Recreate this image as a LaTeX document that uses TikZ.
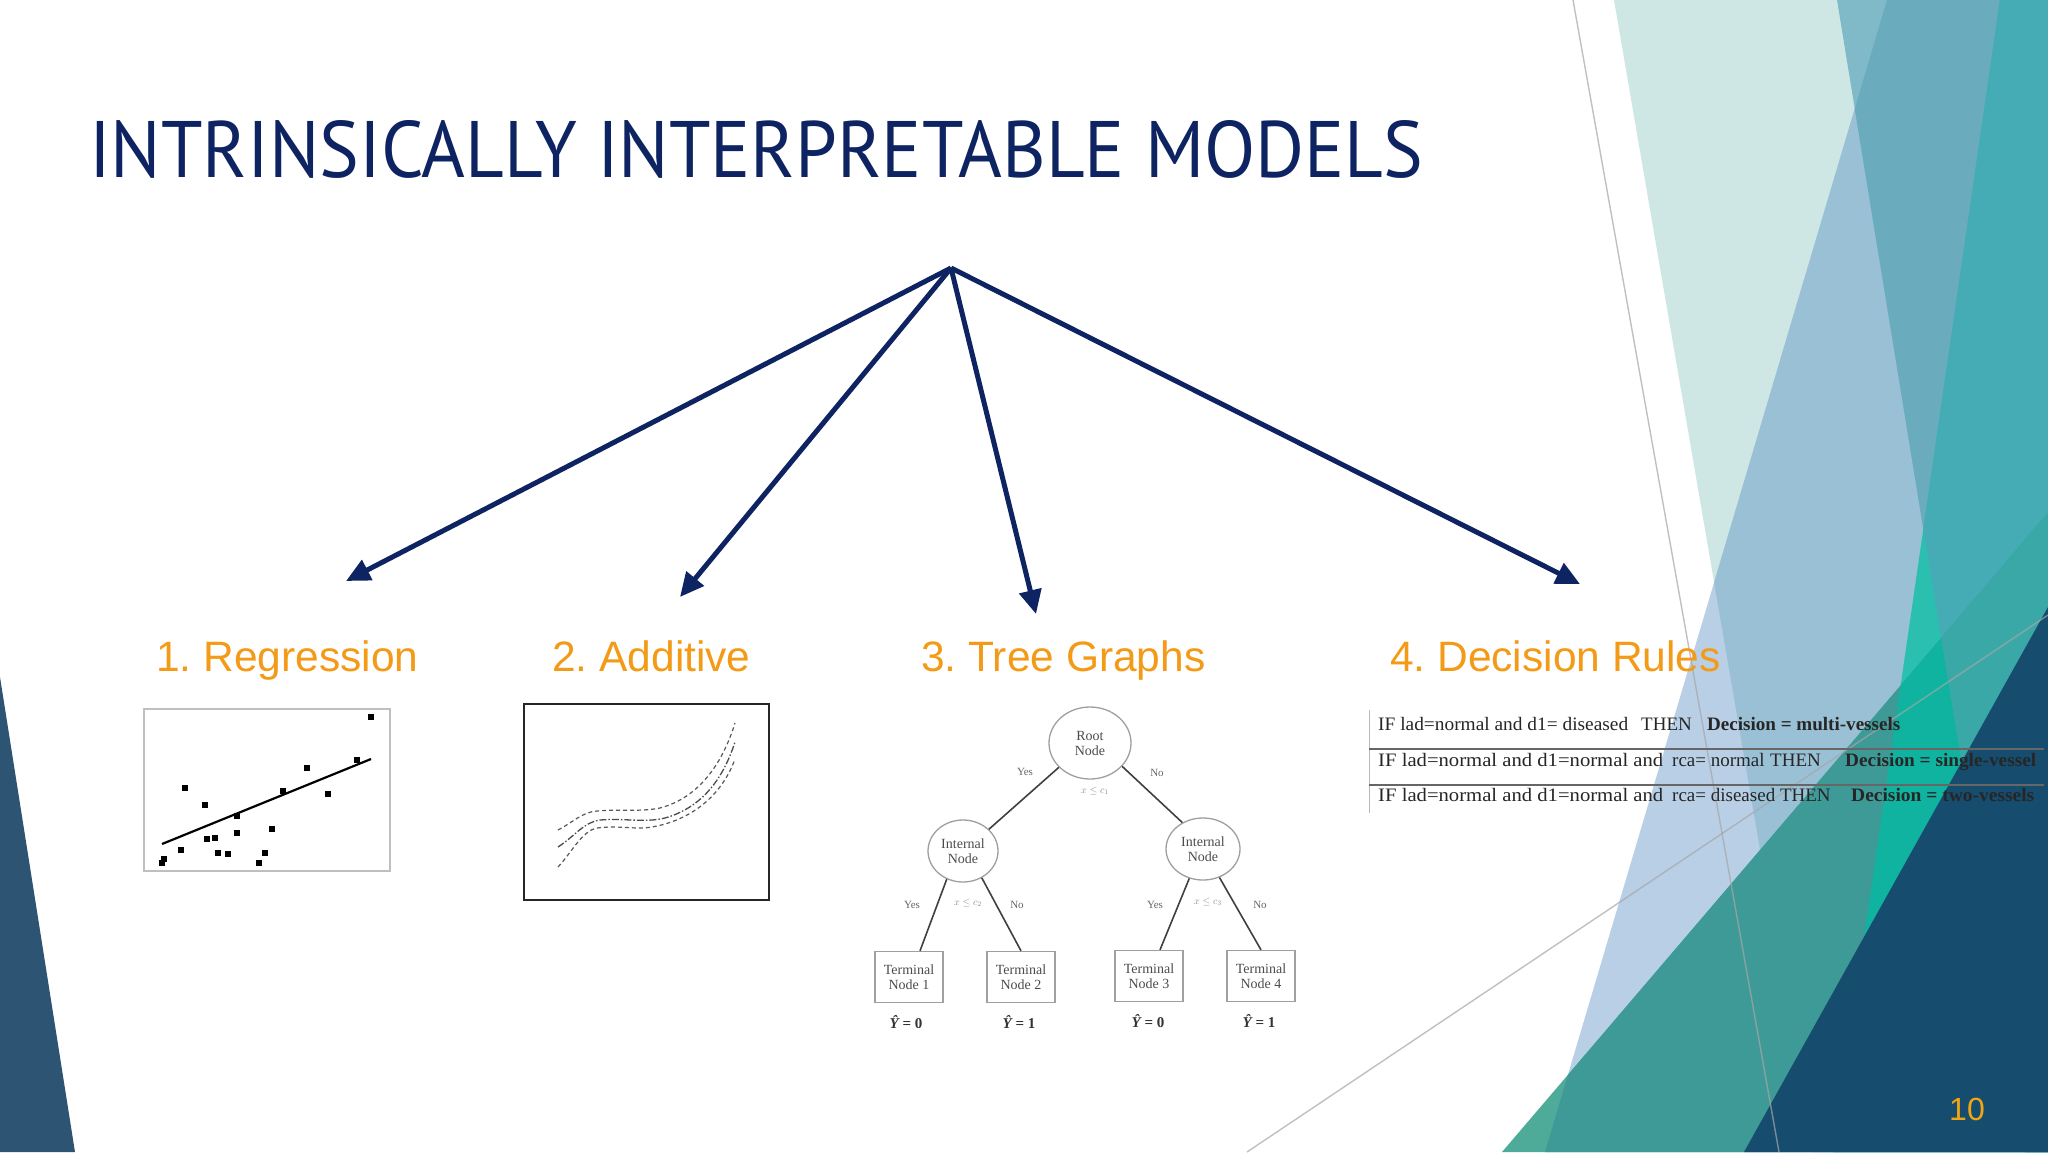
\documentclass[tikz,border=0pt]{standalone}
\usepackage{fontspec}
\usepackage{graphicx}
\setmainfont{Liberation Sans}
\newfontfamily\serifF{Liberation Serif}
\newfontfamily\titleF{PT Sans}
\usetikzlibrary{arrows.meta,shapes.geometric}
\frenchspacing
\newcommand{\fitw}[2]{\resizebox{#1}{\height}{#2}}
\definecolor{navy}{HTML}{0E2361}
\definecolor{orng}{HTML}{F39A17}
\definecolor{pgnum}{HTML}{F0A514}
\definecolor{mint}{HTML}{CFE7E4}
\definecolor{lblue}{HTML}{B8CFE6}
\definecolor{bluemint}{HTML}{99C0D5}
\definecolor{xmint}{HTML}{80BAC8}
\definecolor{xblue}{HTML}{6AABBD}
\definecolor{turq}{HTML}{2BBFB0}
\definecolor{tealx}{HTML}{45ABB5}
\definecolor{gwhite}{HTML}{4FAB99}
\definecolor{gblue}{HTML}{3E9A97}
\definecolor{gturq}{HTML}{10B39F}
\definecolor{gtealx}{HTML}{3BA8A8}
\definecolor{darknavy}{HTML}{164D6E}
\definecolor{slate}{HTML}{2E5473}
\tikzset{
  arrowline/.style={draw=navy, line width=5pt, -{Triangle[length=24pt,width=22pt]}},
  lbl/.style={anchor=base west, inner sep=0, text=orng, font=\fontsize{42.5}{44}\selectfont},
  tellipse/.style={ellipse, draw=gray!75, line width=1.3pt, inner sep=0, align=center,
     font=\serifF\fontsize{14}{15}\selectfont, text=black!70},
  tbox/.style={rectangle, draw=gray!75, line width=1.3pt, inner sep=0, align=center,
     minimum width=68pt, minimum height=51pt, font=\serifF\fontsize{14}{15}\selectfont, text=black!70},
  tedge/.style={draw=black!75, line width=1.6pt},
  tlab/.style={inner sep=0, font=\serifF\fontsize{11}{11}\selectfont, text=black!60},
  tcond/.style={inner sep=0, font=\fontsize{10}{10}\selectfont, text=black!45},
  yhat/.style={inner sep=0, font=\serifF\bfseries\fontsize{15}{15}\selectfont, text=black!80},
  rule/.style={anchor=base west, inner sep=0, font=\serifF\fontsize{19}{19}\selectfont, text=black!85},
  thinline/.style={draw=gray!70, line width=1.4pt, opacity=0.7}
}
\begin{document}
\begin{tikzpicture}[x=1pt,y=-1pt]
\useasboundingbox (0,0) rectangle (2048,1152);
\fill[white] (0,0) rectangle (2048,1152);

% ---------- background facets ----------
\def\Mshape{(1614,0) -- (2048,0) -- (2048,1152) -- (1812,1152) -- cycle}
\def\Ashape{(1887,0) -- (2048,0) -- (2048,1152) -- (1545,1152) -- cycle}
\def\Bshape{(1837,0) -- (2048,0) -- (2048,1152) -- (2025,1152) -- cycle}
\def\Cshape{(2000,0) -- (2048,0) -- (2048,1152) -- (1833,1152) -- cycle}
\def\Eshape{(2048,513) -- (2048,1152) -- (1502,1152) -- cycle}
\def\Nshape{(2048,607) -- (2048,1152) -- (1744,1152) -- cycle}
\fill[mint] \Mshape;
\fill[lblue] \Ashape;
\begin{scope}\clip \Ashape; \fill[bluemint] \Mshape; \end{scope}
\fill[xmint] \Bshape;
\begin{scope}\clip \Ashape; \fill[xblue] \Bshape; \end{scope}
\fill[turq] \Cshape;
\begin{scope}\clip \Cshape; \fill[tealx] \Bshape; \end{scope}
\fill[gwhite] \Eshape;
\begin{scope}\clip \Ashape; \fill[gblue] \Eshape; \end{scope}
\begin{scope}\clip \Cshape; \fill[gturq] \Eshape; \end{scope}
\begin{scope}\clip \Bshape; \fill[gtealx] \Eshape; \end{scope}
\fill[darknavy] \Nshape;
\coordinate (g1a) at (1573,0);
\coordinate (g1b) at (1779,1152);
\coordinate (g2a) at (1247,1152);
\coordinate (g2b) at (2048,615);
\draw[thinline] (g1a) -- (g1b);
\draw[thinline] (g2a) -- (g2b);
\fill[slate] (0,677) -- (75,1152) -- (0,1152) -- cycle;

% ---------- title ----------
\node[anchor=base west, inner sep=0, text=navy] (title) at (89,177)
  {\resizebox{1333pt}{57pt}{\titleF INTRINSICALLY INTERPRETABLE MODELS}};

% ---------- arrows ----------
\coordinate (apex) at (951,268);
\coordinate (t1) at (346,581);
\coordinate (t2) at (680,597);
\coordinate (t3) at (1036,614);
\coordinate (t4) at (1580,584);
\draw[arrowline] (apex) -- (t1);
\draw[arrowline] (apex) -- (t2);
\draw[arrowline] (apex) -- (t3);
\draw[arrowline] (apex) -- (t4);

% ---------- labels ----------
\node[lbl] (l1) at (156,671) {1. Regression};
\node[lbl] (l2) at (552,671) {2. Additive};
\node[lbl] (l3) at (921,671) {3. Tree Graphs};
\node[lbl] (l4) at (1390,671) {4. Decision Rules};

% ---------- regression plot ----------
\draw[draw=gray!50, line width=2pt] (144,709) rectangle (390,871);
\draw[black, line width=2.2pt] (162,844) -- (371,759);
\foreach \x/\y in {371/717,307/768,357/760,185/788,328/794,283/791,205/805,237/816,
  237/833,272/829,207/839,215/838,181/850,218/853,228/854,265/853,259/863,164/859,162/863}
  \fill[black] (\x-2.6,\y-2.6) rectangle (\x+2.6,\y+2.6);

% ---------- additive plot ----------
\draw[draw=black!85, line width=2.5pt] (524,704) rectangle (769,900);
\draw[black!70, line width=1.3pt, dash pattern=on 7pt off 2pt on 1.5pt off 2pt]
  (558,847) .. controls (575,836) and (584,822) .. (600,820)
  .. controls (625,818) and (645,823) .. (665,818)
  .. controls (700,808) and (722,782) .. (735,742);
\draw[black!65, line width=1.2pt, dash pattern=on 4pt off 3pt]
  (558,830) .. controls (572,823) and (582,812) .. (597,811)
  .. controls (620,809) and (640,812) .. (660,808)
  .. controls (698,798) and (722,765) .. (735,723);
\draw[black!65, line width=1.2pt, dash pattern=on 4pt off 3pt]
  (558,867) .. controls (572,852) and (582,831) .. (597,828)
  .. controls (620,825) and (635,830) .. (652,827)
  .. controls (692,820) and (722,795) .. (735,759);

% ---------- tree ----------
\node[tellipse, minimum width=82pt, minimum height=72pt] (root) at (1090,743) {Root\\Node};
\node[tellipse, minimum width=70pt, minimum height=62pt] (li) at (963,851) {Internal\\Node};
\node[tellipse, minimum width=74pt, minimum height=62pt] (ri) at (1203,849) {Internal\\Node};
\node[tbox] (tn1) at (909,977) {Terminal\\Node 1};
\node[tbox] (tn2) at (1021,977) {Terminal\\Node 2};
\node[tbox] (tn3) at (1149,976) {Terminal\\Node 3};
\node[tbox] (tn4) at (1261,976) {Terminal\\Node 4};
\draw[tedge] (root.-142) -- (li.40);
\draw[tedge] (root.-36) -- (ri.128);
\draw[tedge] (li.-120) -- ([xshift=11pt]tn1.north);
\draw[tedge] (li.-55) -- (tn2.north);
\draw[tedge] (ri.-115) -- ([xshift=11pt]tn3.north);
\draw[tedge] (ri.-60) -- (tn4.north);
\node[tlab] (y0) at (1025,772) {Yes};
\node[tlab] (n0) at (1157,773) {No};
\node[tcond] (c0) at (1095,791) {$x\le c_1$};
\node[tlab] (y1) at (912,905) {Yes};
\node[tcond] (c1) at (968,903) {$x\le c_2$};
\node[tlab] (n1) at (1017,905) {No};
\node[tlab] (y2) at (1155,905) {Yes};
\node[tcond] (c2) at (1208,902) {$x\le c_3$};
\node[tlab] (n2) at (1260,905) {No};
\node[yhat] (h1) at (906,1022) {{\itshape Ŷ} = 0};
\node[yhat] (h2) at (1019,1022) {{\itshape Ŷ} = 1};
\node[yhat] (h3) at (1148,1021) {{\itshape Ŷ} = 0};
\node[yhat] (h4) at (1259,1021) {{\itshape Ŷ} = 1};

% ---------- decision rules ----------
\draw[gray!55, line width=1pt] (1369,710) -- (1369,813);
\draw[black!60, line width=2pt] (1369,749) -- (2044,749);
\draw[black!60, line width=2pt] (1369,785) -- (2044,785);
\node[rule] (r1a) at (1378,730) {\fitw{250pt}{IF lad=normal and d1= diseased}};
\node[rule] (r1b) at (1641,730) {THEN};
\node[rule] (r1c) at (1707,730) {\fitw{193pt}{\bfseries Decision = multi-vessels}};
\node[rule] (r2a) at (1378,766) {\fitw{285pt}{IF lad=normal and d1=normal and}};
\node[rule] (r2b) at (1672,766) {rca= normal};
\node[rule] (r2c) at (1770,766) {THEN};
\node[rule] (r2d) at (1845,766) {\fitw{191pt}{\bfseries Decision = single-vessel}};
\node[rule] (r3a) at (1378,801) {\fitw{285pt}{IF lad=normal and d1=normal and}};
\node[rule] (r3b) at (1672,801) {rca= diseased THEN};
\node[rule] (r3c) at (1851,801) {\fitw{183pt}{\bfseries Decision = two-vessels}};

% ---------- page number ----------
\node[anchor=base, inner sep=0, text=pgnum, font=\fontsize{32}{32}\selectfont] (pg) at (1967,1120) {10};
\end{tikzpicture}
\end{document}
